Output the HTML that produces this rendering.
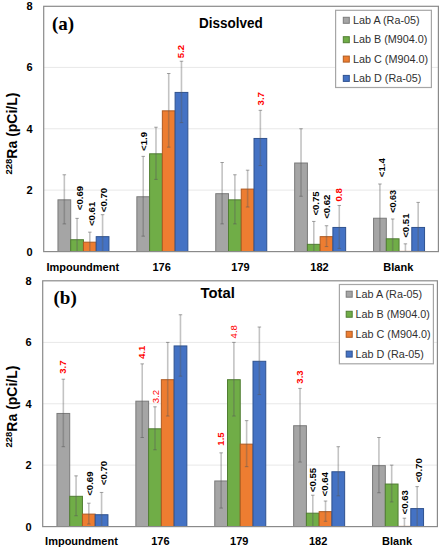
<!DOCTYPE html>
<html><head><meta charset="utf-8"><style>
html,body{margin:0;padding:0;background:#fff;}
svg{display:block;}
svg{font-family:"Liberation Sans", sans-serif;}
</style></head><body>
<svg width="442" height="550" viewBox="0 0 442 550" shape-rendering="auto">
<rect x="0" y="0" width="442" height="550" fill="#fff"/>
<line x1="44" y1="190.12" x2="438.5" y2="190.12" stroke="#E8E8E8" stroke-width="1"/>
<line x1="44" y1="128.75" x2="438.5" y2="128.75" stroke="#E8E8E8" stroke-width="1"/>
<line x1="44" y1="67.38" x2="438.5" y2="67.38" stroke="#E8E8E8" stroke-width="1"/>
<rect x="57.96" y="199.83" width="12.75" height="51.67" fill="#A5A5A5" stroke="#7B7B7B" stroke-width="1"/>
<rect x="70.70" y="239.72" width="12.75" height="11.78" fill="#70AD47" stroke="#507E32" stroke-width="1"/>
<rect x="83.45" y="242.18" width="12.75" height="9.32" fill="#ED7D31" stroke="#AE5A21" stroke-width="1"/>
<rect x="96.20" y="236.66" width="12.75" height="14.84" fill="#4472C4" stroke="#2F528F" stroke-width="1"/>
<rect x="136.86" y="196.76" width="12.75" height="54.74" fill="#A5A5A5" stroke="#7B7B7B" stroke-width="1"/>
<rect x="149.60" y="153.80" width="12.75" height="97.70" fill="#70AD47" stroke="#507E32" stroke-width="1"/>
<rect x="162.35" y="110.84" width="12.75" height="140.66" fill="#ED7D31" stroke="#AE5A21" stroke-width="1"/>
<rect x="175.10" y="92.42" width="12.75" height="159.08" fill="#4472C4" stroke="#2F528F" stroke-width="1"/>
<rect x="215.76" y="193.69" width="12.75" height="57.81" fill="#A5A5A5" stroke="#7B7B7B" stroke-width="1"/>
<rect x="228.50" y="199.83" width="12.75" height="51.67" fill="#70AD47" stroke="#507E32" stroke-width="1"/>
<rect x="241.25" y="189.09" width="12.75" height="62.41" fill="#ED7D31" stroke="#AE5A21" stroke-width="1"/>
<rect x="254.00" y="138.46" width="12.75" height="113.04" fill="#4472C4" stroke="#2F528F" stroke-width="1"/>
<rect x="294.66" y="163.01" width="12.75" height="88.49" fill="#A5A5A5" stroke="#7B7B7B" stroke-width="1"/>
<rect x="307.40" y="244.33" width="12.75" height="7.17" fill="#70AD47" stroke="#507E32" stroke-width="1"/>
<rect x="320.15" y="236.66" width="12.75" height="14.84" fill="#ED7D31" stroke="#AE5A21" stroke-width="1"/>
<rect x="332.90" y="227.45" width="12.75" height="24.05" fill="#4472C4" stroke="#2F528F" stroke-width="1"/>
<rect x="373.56" y="218.24" width="12.75" height="33.26" fill="#A5A5A5" stroke="#7B7B7B" stroke-width="1"/>
<rect x="386.30" y="238.80" width="12.75" height="12.70" fill="#70AD47" stroke="#507E32" stroke-width="1"/>
<rect x="399.05" y="251.39" width="12.75" height="0.11" fill="#ED7D31" stroke="#AE5A21" stroke-width="1"/>
<rect x="411.80" y="227.45" width="12.75" height="24.05" fill="#4472C4" stroke="#2F528F" stroke-width="1"/>
<line x1="64.33" y1="174.78" x2="64.33" y2="223.88" stroke="#595959" stroke-opacity="0.36" stroke-width="1.6"/>
<line x1="62.58" y1="174.78" x2="66.08" y2="174.78" stroke="#595959" stroke-opacity="0.55" stroke-width="1"/>
<line x1="62.58" y1="223.88" x2="66.08" y2="223.88" stroke="#595959" stroke-opacity="0.55" stroke-width="1"/>
<line x1="77.08" y1="218.36" x2="77.08" y2="251.50" stroke="#595959" stroke-opacity="0.36" stroke-width="1.6"/>
<line x1="75.33" y1="218.36" x2="78.83" y2="218.36" stroke="#595959" stroke-opacity="0.55" stroke-width="1"/>
<line x1="89.82" y1="232.17" x2="89.82" y2="251.19" stroke="#595959" stroke-opacity="0.36" stroke-width="1.6"/>
<line x1="88.07" y1="232.17" x2="91.57" y2="232.17" stroke="#595959" stroke-opacity="0.55" stroke-width="1"/>
<line x1="102.57" y1="214.68" x2="102.57" y2="251.50" stroke="#595959" stroke-opacity="0.36" stroke-width="1.6"/>
<line x1="100.82" y1="214.68" x2="104.32" y2="214.68" stroke="#595959" stroke-opacity="0.55" stroke-width="1"/>
<line x1="143.23" y1="156.37" x2="143.23" y2="236.16" stroke="#595959" stroke-opacity="0.36" stroke-width="1.6"/>
<line x1="141.48" y1="156.37" x2="144.98" y2="156.37" stroke="#595959" stroke-opacity="0.55" stroke-width="1"/>
<line x1="141.48" y1="236.16" x2="144.98" y2="236.16" stroke="#595959" stroke-opacity="0.55" stroke-width="1"/>
<line x1="155.98" y1="127.22" x2="155.98" y2="179.38" stroke="#595959" stroke-opacity="0.36" stroke-width="1.6"/>
<line x1="154.23" y1="127.22" x2="157.73" y2="127.22" stroke="#595959" stroke-opacity="0.55" stroke-width="1"/>
<line x1="154.23" y1="179.38" x2="157.73" y2="179.38" stroke="#595959" stroke-opacity="0.55" stroke-width="1"/>
<line x1="168.72" y1="73.51" x2="168.72" y2="147.16" stroke="#595959" stroke-opacity="0.36" stroke-width="1.6"/>
<line x1="166.97" y1="73.51" x2="170.47" y2="73.51" stroke="#595959" stroke-opacity="0.55" stroke-width="1"/>
<line x1="166.97" y1="147.16" x2="170.47" y2="147.16" stroke="#595959" stroke-opacity="0.55" stroke-width="1"/>
<line x1="181.47" y1="61.24" x2="181.47" y2="122.61" stroke="#595959" stroke-opacity="0.36" stroke-width="1.6"/>
<line x1="179.72" y1="61.24" x2="183.22" y2="61.24" stroke="#595959" stroke-opacity="0.55" stroke-width="1"/>
<line x1="179.72" y1="122.61" x2="183.22" y2="122.61" stroke="#595959" stroke-opacity="0.55" stroke-width="1"/>
<line x1="222.13" y1="162.51" x2="222.13" y2="223.88" stroke="#595959" stroke-opacity="0.36" stroke-width="1.6"/>
<line x1="220.38" y1="162.51" x2="223.88" y2="162.51" stroke="#595959" stroke-opacity="0.55" stroke-width="1"/>
<line x1="220.38" y1="223.88" x2="223.88" y2="223.88" stroke="#595959" stroke-opacity="0.55" stroke-width="1"/>
<line x1="234.88" y1="174.78" x2="234.88" y2="223.88" stroke="#595959" stroke-opacity="0.36" stroke-width="1.6"/>
<line x1="233.13" y1="174.78" x2="236.63" y2="174.78" stroke="#595959" stroke-opacity="0.55" stroke-width="1"/>
<line x1="233.13" y1="223.88" x2="236.63" y2="223.88" stroke="#595959" stroke-opacity="0.55" stroke-width="1"/>
<line x1="247.62" y1="170.18" x2="247.62" y2="207.00" stroke="#595959" stroke-opacity="0.36" stroke-width="1.6"/>
<line x1="245.87" y1="170.18" x2="249.37" y2="170.18" stroke="#595959" stroke-opacity="0.55" stroke-width="1"/>
<line x1="245.87" y1="207.00" x2="249.37" y2="207.00" stroke="#595959" stroke-opacity="0.55" stroke-width="1"/>
<line x1="260.37" y1="110.34" x2="260.37" y2="165.57" stroke="#595959" stroke-opacity="0.36" stroke-width="1.6"/>
<line x1="258.62" y1="110.34" x2="262.12" y2="110.34" stroke="#595959" stroke-opacity="0.55" stroke-width="1"/>
<line x1="258.62" y1="165.57" x2="262.12" y2="165.57" stroke="#595959" stroke-opacity="0.55" stroke-width="1"/>
<line x1="301.03" y1="128.75" x2="301.03" y2="196.26" stroke="#595959" stroke-opacity="0.36" stroke-width="1.6"/>
<line x1="299.28" y1="128.75" x2="302.78" y2="128.75" stroke="#595959" stroke-opacity="0.55" stroke-width="1"/>
<line x1="299.28" y1="196.26" x2="302.78" y2="196.26" stroke="#595959" stroke-opacity="0.55" stroke-width="1"/>
<line x1="313.78" y1="221.43" x2="313.78" y2="251.50" stroke="#595959" stroke-opacity="0.36" stroke-width="1.6"/>
<line x1="312.03" y1="221.43" x2="315.53" y2="221.43" stroke="#595959" stroke-opacity="0.55" stroke-width="1"/>
<line x1="326.52" y1="225.72" x2="326.52" y2="246.59" stroke="#595959" stroke-opacity="0.36" stroke-width="1.6"/>
<line x1="324.77" y1="225.72" x2="328.27" y2="225.72" stroke="#595959" stroke-opacity="0.55" stroke-width="1"/>
<line x1="324.77" y1="246.59" x2="328.27" y2="246.59" stroke="#595959" stroke-opacity="0.55" stroke-width="1"/>
<line x1="339.27" y1="205.47" x2="339.27" y2="248.43" stroke="#595959" stroke-opacity="0.36" stroke-width="1.6"/>
<line x1="337.52" y1="205.47" x2="341.02" y2="205.47" stroke="#595959" stroke-opacity="0.55" stroke-width="1"/>
<line x1="337.52" y1="248.43" x2="341.02" y2="248.43" stroke="#595959" stroke-opacity="0.55" stroke-width="1"/>
<line x1="379.93" y1="183.99" x2="379.93" y2="251.50" stroke="#595959" stroke-opacity="0.36" stroke-width="1.6"/>
<line x1="378.18" y1="183.99" x2="381.68" y2="183.99" stroke="#595959" stroke-opacity="0.55" stroke-width="1"/>
<line x1="392.68" y1="218.97" x2="392.68" y2="251.50" stroke="#595959" stroke-opacity="0.36" stroke-width="1.6"/>
<line x1="390.93" y1="218.97" x2="394.43" y2="218.97" stroke="#595959" stroke-opacity="0.55" stroke-width="1"/>
<line x1="405.42" y1="243.83" x2="405.42" y2="251.50" stroke="#595959" stroke-opacity="0.36" stroke-width="1.6"/>
<line x1="403.67" y1="243.83" x2="407.17" y2="243.83" stroke="#595959" stroke-opacity="0.55" stroke-width="1"/>
<line x1="418.17" y1="202.40" x2="418.17" y2="251.50" stroke="#595959" stroke-opacity="0.36" stroke-width="1.6"/>
<line x1="416.42" y1="202.40" x2="419.92" y2="202.40" stroke="#595959" stroke-opacity="0.55" stroke-width="1"/>
<rect x="43.7" y="6.3" width="394.70" height="245.30" fill="none" stroke="#8A8A8A" stroke-width="1.2"/>
<text x="32.7" y="255.50" text-anchor="end" font-size="11" font-weight="bold">0</text>
<text x="32.7" y="194.12" text-anchor="end" font-size="11" font-weight="bold">2</text>
<text x="32.7" y="132.75" text-anchor="end" font-size="11" font-weight="bold">4</text>
<text x="32.7" y="71.38" text-anchor="end" font-size="11" font-weight="bold">6</text>
<text x="32.7" y="10.00" text-anchor="end" font-size="11" font-weight="bold">8</text>
<text x="82.75" y="271.00" text-anchor="middle" font-size="11" font-weight="bold">Impoundment</text>
<text x="161.65" y="271.00" text-anchor="middle" font-size="11" font-weight="bold">176</text>
<text x="240.55" y="271.00" text-anchor="middle" font-size="11" font-weight="bold">179</text>
<text x="319.45" y="271.00" text-anchor="middle" font-size="11" font-weight="bold">182</text>
<text x="398.35" y="271.00" text-anchor="middle" font-size="11" font-weight="bold">Blank</text>
<text transform="translate(82.78,198.05) rotate(-90)" text-anchor="middle" font-size="9.6" font-weight="bold" fill="#000">&lt;0.69</text>
<text transform="translate(95.08,213.85) rotate(-90)" text-anchor="middle" font-size="9.6" font-weight="bold" fill="#000">&lt;0.61</text>
<text transform="translate(107.23,200.05) rotate(-90)" text-anchor="middle" font-size="9.6" font-weight="bold" fill="#000">&lt;0.70</text>
<text transform="translate(146.98,141.45) rotate(-90)" text-anchor="middle" font-size="9.6" font-weight="bold" fill="#000">&lt;1.9</text>
<text transform="translate(183.88,51.50) rotate(-90)" text-anchor="middle" font-size="9.6" font-weight="bold" fill="#FF0000">5.2</text>
<text transform="translate(263.58,98.75) rotate(-90)" text-anchor="middle" font-size="9.6" font-weight="bold" fill="#FF0000">3.7</text>
<text transform="translate(319.48,203.45) rotate(-90)" text-anchor="middle" font-size="9.6" font-weight="bold" fill="#000">&lt;0.75</text>
<text transform="translate(329.98,206.70) rotate(-90)" text-anchor="middle" font-size="9.6" font-weight="bold" fill="#000">&lt;0.62</text>
<text transform="translate(341.88,194.90) rotate(-90)" text-anchor="middle" font-size="9.6" font-weight="bold" fill="#FF0000">0.8</text>
<text transform="translate(385.18,167.70) rotate(-90)" text-anchor="middle" font-size="9.6" font-weight="bold" fill="#000">&lt;1.4</text>
<text transform="translate(396.30,201.30) rotate(-90)" text-anchor="middle" font-size="9" font-weight="bold" fill="#000">&lt;0.63</text>
<text transform="translate(409.08,225.65) rotate(-90)" text-anchor="middle" font-size="9.6" font-weight="bold" fill="#000">&lt;0.51</text>
<text transform="translate(199,28.3) scale(0.9,1)" font-size="15" font-weight="bold">Dissolved</text>
<text x="52" y="29.6" style='font-family:"Liberation Serif", serif' font-size="19" font-weight="bold">(a)</text>
<text transform="translate(17,133.5) rotate(-90)" text-anchor="middle" font-size="14" font-weight="bold"><tspan font-size="9.5" dy="-5">228</tspan><tspan dy="5">Ra (pCi/L)</tspan></text>
<rect x="335.6" y="10.3" width="95.8" height="77.2" fill="#fff" stroke="#A6A6A6" stroke-width="1.2"/>
<rect x="343.3" y="17.30" width="6" height="6" fill="#A5A5A5" stroke="#7B7B7B" stroke-width="1"/>
<text x="353" y="23.80" font-size="10.8" fill="#303030">Lab A (Ra-05)</text>
<rect x="343.3" y="36.70" width="6" height="6" fill="#70AD47" stroke="#507E32" stroke-width="1"/>
<text x="353" y="43.20" font-size="10.8" fill="#303030">Lab B (M904.0)</text>
<rect x="343.3" y="56.10" width="6" height="6" fill="#ED7D31" stroke="#AE5A21" stroke-width="1"/>
<text x="353" y="62.60" font-size="10.8" fill="#303030">Lab C (M904.0)</text>
<rect x="343.3" y="75.40" width="6" height="6" fill="#4472C4" stroke="#2F528F" stroke-width="1"/>
<text x="353" y="81.90" font-size="10.8" fill="#303030">Lab D (Ra-05)</text>
<line x1="43" y1="465.12" x2="437.5" y2="465.12" stroke="#E8E8E8" stroke-width="1"/>
<line x1="43" y1="403.75" x2="437.5" y2="403.75" stroke="#E8E8E8" stroke-width="1"/>
<line x1="43" y1="342.38" x2="437.5" y2="342.38" stroke="#E8E8E8" stroke-width="1"/>
<rect x="56.96" y="413.46" width="12.75" height="113.04" fill="#A5A5A5" stroke="#7B7B7B" stroke-width="1"/>
<rect x="69.70" y="496.31" width="12.75" height="30.19" fill="#70AD47" stroke="#507E32" stroke-width="1"/>
<rect x="82.45" y="514.11" width="12.75" height="12.39" fill="#ED7D31" stroke="#AE5A21" stroke-width="1"/>
<rect x="95.20" y="514.73" width="12.75" height="11.78" fill="#4472C4" stroke="#2F528F" stroke-width="1"/>
<rect x="135.86" y="401.18" width="12.75" height="125.32" fill="#A5A5A5" stroke="#7B7B7B" stroke-width="1"/>
<rect x="148.60" y="428.80" width="12.75" height="97.70" fill="#70AD47" stroke="#507E32" stroke-width="1"/>
<rect x="161.35" y="379.70" width="12.75" height="146.80" fill="#ED7D31" stroke="#AE5A21" stroke-width="1"/>
<rect x="174.10" y="345.94" width="12.75" height="180.56" fill="#4472C4" stroke="#2F528F" stroke-width="1"/>
<rect x="214.76" y="480.97" width="12.75" height="45.53" fill="#A5A5A5" stroke="#7B7B7B" stroke-width="1"/>
<rect x="227.50" y="379.70" width="12.75" height="146.80" fill="#70AD47" stroke="#507E32" stroke-width="1"/>
<rect x="240.25" y="444.14" width="12.75" height="82.36" fill="#ED7D31" stroke="#AE5A21" stroke-width="1"/>
<rect x="253.00" y="361.29" width="12.75" height="165.21" fill="#4472C4" stroke="#2F528F" stroke-width="1"/>
<rect x="293.66" y="425.73" width="12.75" height="100.77" fill="#A5A5A5" stroke="#7B7B7B" stroke-width="1"/>
<rect x="306.40" y="513.19" width="12.75" height="13.31" fill="#70AD47" stroke="#507E32" stroke-width="1"/>
<rect x="319.15" y="511.66" width="12.75" height="14.84" fill="#ED7D31" stroke="#AE5A21" stroke-width="1"/>
<rect x="331.90" y="471.76" width="12.75" height="54.74" fill="#4472C4" stroke="#2F528F" stroke-width="1"/>
<rect x="372.56" y="465.62" width="12.75" height="60.88" fill="#A5A5A5" stroke="#7B7B7B" stroke-width="1"/>
<rect x="385.30" y="484.04" width="12.75" height="42.46" fill="#70AD47" stroke="#507E32" stroke-width="1"/>
<rect x="398.05" y="526.39" width="12.75" height="0.11" fill="#ED7D31" stroke="#AE5A21" stroke-width="1"/>
<rect x="410.80" y="508.59" width="12.75" height="17.91" fill="#4472C4" stroke="#2F528F" stroke-width="1"/>
<line x1="63.33" y1="379.20" x2="63.33" y2="446.71" stroke="#595959" stroke-opacity="0.36" stroke-width="1.6"/>
<line x1="61.58" y1="379.20" x2="65.08" y2="379.20" stroke="#595959" stroke-opacity="0.55" stroke-width="1"/>
<line x1="61.58" y1="446.71" x2="65.08" y2="446.71" stroke="#595959" stroke-opacity="0.55" stroke-width="1"/>
<line x1="76.08" y1="475.87" x2="76.08" y2="515.76" stroke="#595959" stroke-opacity="0.36" stroke-width="1.6"/>
<line x1="74.33" y1="475.87" x2="77.83" y2="475.87" stroke="#595959" stroke-opacity="0.55" stroke-width="1"/>
<line x1="74.33" y1="515.76" x2="77.83" y2="515.76" stroke="#595959" stroke-opacity="0.55" stroke-width="1"/>
<line x1="88.82" y1="503.18" x2="88.82" y2="524.04" stroke="#595959" stroke-opacity="0.36" stroke-width="1.6"/>
<line x1="87.07" y1="503.18" x2="90.57" y2="503.18" stroke="#595959" stroke-opacity="0.55" stroke-width="1"/>
<line x1="87.07" y1="524.04" x2="90.57" y2="524.04" stroke="#595959" stroke-opacity="0.55" stroke-width="1"/>
<line x1="101.57" y1="492.44" x2="101.57" y2="526.50" stroke="#595959" stroke-opacity="0.36" stroke-width="1.6"/>
<line x1="99.82" y1="492.44" x2="103.32" y2="492.44" stroke="#595959" stroke-opacity="0.55" stroke-width="1"/>
<line x1="142.23" y1="363.86" x2="142.23" y2="437.51" stroke="#595959" stroke-opacity="0.36" stroke-width="1.6"/>
<line x1="140.48" y1="363.86" x2="143.98" y2="363.86" stroke="#595959" stroke-opacity="0.55" stroke-width="1"/>
<line x1="140.48" y1="437.51" x2="143.98" y2="437.51" stroke="#595959" stroke-opacity="0.55" stroke-width="1"/>
<line x1="154.98" y1="406.82" x2="154.98" y2="449.78" stroke="#595959" stroke-opacity="0.36" stroke-width="1.6"/>
<line x1="153.23" y1="406.82" x2="156.73" y2="406.82" stroke="#595959" stroke-opacity="0.55" stroke-width="1"/>
<line x1="153.23" y1="449.78" x2="156.73" y2="449.78" stroke="#595959" stroke-opacity="0.55" stroke-width="1"/>
<line x1="167.72" y1="342.38" x2="167.72" y2="416.02" stroke="#595959" stroke-opacity="0.36" stroke-width="1.6"/>
<line x1="165.97" y1="342.38" x2="169.47" y2="342.38" stroke="#595959" stroke-opacity="0.55" stroke-width="1"/>
<line x1="165.97" y1="416.02" x2="169.47" y2="416.02" stroke="#595959" stroke-opacity="0.55" stroke-width="1"/>
<line x1="180.47" y1="314.76" x2="180.47" y2="376.13" stroke="#595959" stroke-opacity="0.36" stroke-width="1.6"/>
<line x1="178.72" y1="314.76" x2="182.22" y2="314.76" stroke="#595959" stroke-opacity="0.55" stroke-width="1"/>
<line x1="178.72" y1="376.13" x2="182.22" y2="376.13" stroke="#595959" stroke-opacity="0.55" stroke-width="1"/>
<line x1="221.13" y1="452.85" x2="221.13" y2="508.09" stroke="#595959" stroke-opacity="0.36" stroke-width="1.6"/>
<line x1="219.38" y1="452.85" x2="222.88" y2="452.85" stroke="#595959" stroke-opacity="0.55" stroke-width="1"/>
<line x1="219.38" y1="508.09" x2="222.88" y2="508.09" stroke="#595959" stroke-opacity="0.55" stroke-width="1"/>
<line x1="233.88" y1="342.38" x2="233.88" y2="416.02" stroke="#595959" stroke-opacity="0.36" stroke-width="1.6"/>
<line x1="232.13" y1="342.38" x2="235.63" y2="342.38" stroke="#595959" stroke-opacity="0.55" stroke-width="1"/>
<line x1="232.13" y1="416.02" x2="235.63" y2="416.02" stroke="#595959" stroke-opacity="0.55" stroke-width="1"/>
<line x1="246.62" y1="420.63" x2="246.62" y2="466.66" stroke="#595959" stroke-opacity="0.36" stroke-width="1.6"/>
<line x1="244.87" y1="420.63" x2="248.37" y2="420.63" stroke="#595959" stroke-opacity="0.55" stroke-width="1"/>
<line x1="244.87" y1="466.66" x2="248.37" y2="466.66" stroke="#595959" stroke-opacity="0.55" stroke-width="1"/>
<line x1="259.37" y1="327.03" x2="259.37" y2="394.54" stroke="#595959" stroke-opacity="0.36" stroke-width="1.6"/>
<line x1="257.62" y1="327.03" x2="261.12" y2="327.03" stroke="#595959" stroke-opacity="0.55" stroke-width="1"/>
<line x1="257.62" y1="394.54" x2="261.12" y2="394.54" stroke="#595959" stroke-opacity="0.55" stroke-width="1"/>
<line x1="300.03" y1="388.41" x2="300.03" y2="462.06" stroke="#595959" stroke-opacity="0.36" stroke-width="1.6"/>
<line x1="298.28" y1="388.41" x2="301.78" y2="388.41" stroke="#595959" stroke-opacity="0.55" stroke-width="1"/>
<line x1="298.28" y1="462.06" x2="301.78" y2="462.06" stroke="#595959" stroke-opacity="0.55" stroke-width="1"/>
<line x1="312.78" y1="495.20" x2="312.78" y2="526.50" stroke="#595959" stroke-opacity="0.36" stroke-width="1.6"/>
<line x1="311.03" y1="495.20" x2="314.53" y2="495.20" stroke="#595959" stroke-opacity="0.55" stroke-width="1"/>
<line x1="325.52" y1="501.03" x2="325.52" y2="521.28" stroke="#595959" stroke-opacity="0.36" stroke-width="1.6"/>
<line x1="323.77" y1="501.03" x2="327.27" y2="501.03" stroke="#595959" stroke-opacity="0.55" stroke-width="1"/>
<line x1="323.77" y1="521.28" x2="327.27" y2="521.28" stroke="#595959" stroke-opacity="0.55" stroke-width="1"/>
<line x1="338.27" y1="446.71" x2="338.27" y2="495.81" stroke="#595959" stroke-opacity="0.36" stroke-width="1.6"/>
<line x1="336.52" y1="446.71" x2="340.02" y2="446.71" stroke="#595959" stroke-opacity="0.55" stroke-width="1"/>
<line x1="336.52" y1="495.81" x2="340.02" y2="495.81" stroke="#595959" stroke-opacity="0.55" stroke-width="1"/>
<line x1="378.93" y1="437.51" x2="378.93" y2="492.74" stroke="#595959" stroke-opacity="0.36" stroke-width="1.6"/>
<line x1="377.18" y1="437.51" x2="380.68" y2="437.51" stroke="#595959" stroke-opacity="0.55" stroke-width="1"/>
<line x1="377.18" y1="492.74" x2="380.68" y2="492.74" stroke="#595959" stroke-opacity="0.55" stroke-width="1"/>
<line x1="391.68" y1="465.12" x2="391.68" y2="501.95" stroke="#595959" stroke-opacity="0.36" stroke-width="1.6"/>
<line x1="389.93" y1="465.12" x2="393.43" y2="465.12" stroke="#595959" stroke-opacity="0.55" stroke-width="1"/>
<line x1="389.93" y1="501.95" x2="393.43" y2="501.95" stroke="#595959" stroke-opacity="0.55" stroke-width="1"/>
<line x1="404.42" y1="518.21" x2="404.42" y2="526.50" stroke="#595959" stroke-opacity="0.36" stroke-width="1.6"/>
<line x1="402.67" y1="518.21" x2="406.17" y2="518.21" stroke="#595959" stroke-opacity="0.55" stroke-width="1"/>
<line x1="417.17" y1="486.61" x2="417.17" y2="526.50" stroke="#595959" stroke-opacity="0.36" stroke-width="1.6"/>
<line x1="415.42" y1="486.61" x2="418.92" y2="486.61" stroke="#595959" stroke-opacity="0.55" stroke-width="1"/>
<rect x="42.7" y="280.8" width="394.70" height="245.80" fill="none" stroke="#8A8A8A" stroke-width="1.2"/>
<text x="31.7" y="530.50" text-anchor="end" font-size="11" font-weight="bold">0</text>
<text x="31.7" y="469.12" text-anchor="end" font-size="11" font-weight="bold">2</text>
<text x="31.7" y="407.75" text-anchor="end" font-size="11" font-weight="bold">4</text>
<text x="31.7" y="346.38" text-anchor="end" font-size="11" font-weight="bold">6</text>
<text x="31.7" y="285.00" text-anchor="end" font-size="11" font-weight="bold">8</text>
<text x="81.45" y="545.20" text-anchor="middle" font-size="11" font-weight="bold">Impoundment</text>
<text x="160.35" y="545.20" text-anchor="middle" font-size="11" font-weight="bold">176</text>
<text x="239.25" y="545.20" text-anchor="middle" font-size="11" font-weight="bold">179</text>
<text x="318.15" y="545.20" text-anchor="middle" font-size="11" font-weight="bold">182</text>
<text x="397.05" y="545.20" text-anchor="middle" font-size="11" font-weight="bold">Blank</text>
<text transform="translate(66.48,367.15) rotate(-90)" text-anchor="middle" font-size="9.6" font-weight="bold" fill="#FF0000">3.7</text>
<text transform="translate(93.08,483.65) rotate(-90)" text-anchor="middle" font-size="9.6" font-weight="bold" fill="#000">&lt;0.69</text>
<text transform="translate(106.88,473.00) rotate(-90)" text-anchor="middle" font-size="9.6" font-weight="bold" fill="#000">&lt;0.70</text>
<text transform="translate(145.28,352.35) rotate(-90)" text-anchor="middle" font-size="9.6" font-weight="bold" fill="#FF0000">4.1</text>
<text transform="translate(158.58,396.50) rotate(-90)" text-anchor="middle" font-size="9.6" font-weight="normal" fill="#FF0000">3.2</text>
<text transform="translate(223.88,439.00) rotate(-90)" text-anchor="middle" font-size="9.6" font-weight="bold" fill="#FF0000">1.5</text>
<text transform="translate(237.18,331.75) rotate(-90)" text-anchor="middle" font-size="9.6" font-weight="normal" fill="#FF0000">4.8</text>
<text transform="translate(303.38,377.00) rotate(-90)" text-anchor="middle" font-size="9.6" font-weight="bold" fill="#FF0000">3.3</text>
<text transform="translate(316.38,480.00) rotate(-90)" text-anchor="middle" font-size="9.6" font-weight="bold" fill="#000">&lt;0.55</text>
<text transform="translate(328.18,484.30) rotate(-90)" text-anchor="middle" font-size="9.6" font-weight="bold" fill="#000">&lt;0.64</text>
<text transform="translate(407.88,502.25) rotate(-90)" text-anchor="middle" font-size="9.6" font-weight="bold" fill="#000">&lt;0.63</text>
<text transform="translate(421.78,470.35) rotate(-90)" text-anchor="middle" font-size="9.6" font-weight="bold" fill="#000">&lt;0.70</text>
<text transform="translate(200.5,297.6) scale(0.99,1)" font-size="15" font-weight="bold">Total</text>
<text x="53.5" y="303.8" style='font-family:"Liberation Serif", serif' font-size="19" font-weight="bold">(b)</text>
<text transform="translate(17,406.5) rotate(-90)" text-anchor="middle" font-size="14" font-weight="bold"><tspan font-size="9.5" dy="-5">228</tspan><tspan dy="5">Ra (pCi/L)</tspan></text>
<rect x="339.4" y="284.5" width="94" height="79.3" fill="#fff" stroke="#A6A6A6" stroke-width="1.2"/>
<rect x="346.2" y="291.20" width="6" height="6" fill="#A5A5A5" stroke="#7B7B7B" stroke-width="1"/>
<text x="355.5" y="297.70" font-size="10.8" fill="#303030">Lab A (Ra-05)</text>
<rect x="346.2" y="311.25" width="6" height="6" fill="#70AD47" stroke="#507E32" stroke-width="1"/>
<text x="355.5" y="317.75" font-size="10.8" fill="#303030">Lab B (M904.0)</text>
<rect x="346.2" y="331.30" width="6" height="6" fill="#ED7D31" stroke="#AE5A21" stroke-width="1"/>
<text x="355.5" y="337.80" font-size="10.8" fill="#303030">Lab C (M904.0)</text>
<rect x="346.2" y="351.10" width="6" height="6" fill="#4472C4" stroke="#2F528F" stroke-width="1"/>
<text x="355.5" y="357.60" font-size="10.8" fill="#303030">Lab D (Ra-05)</text>
</svg>
</body></html>
